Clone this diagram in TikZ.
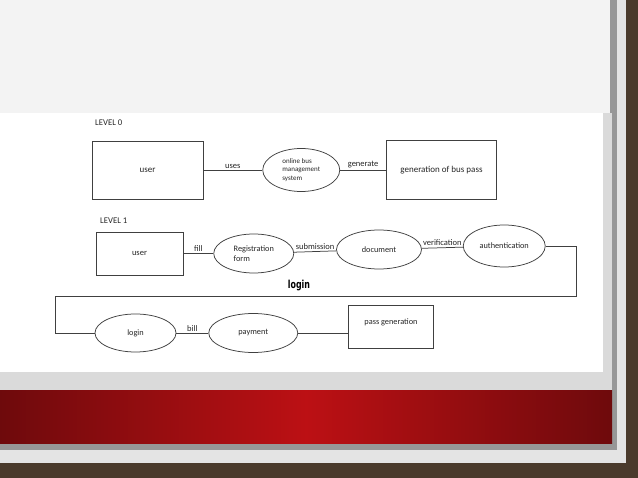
\documentclass[tikz,border=0pt]{standalone}
\usepackage{graphicx}
\usepackage{fontspec}
\setmainfont{Carlito}
\newfontfamily\condfont{DejaVu Sans Condensed}
\usetikzlibrary{positioning,shapes.geometric}
\definecolor{brick}{HTML}{4A3A2C}
\definecolor{slideedge}{HTML}{E4E4E4}
\definecolor{slideshade}{HTML}{979797}
\definecolor{slidetop}{HTML}{F3F3F3}
\definecolor{slidegray}{HTML}{DADADA}
\definecolor{reddark}{HTML}{6E0A0C}
\definecolor{redmid}{HTML}{BC1014}
\definecolor{linegray}{HTML}{404040}
\definecolor{textgray}{HTML}{262626}
\tikzset{%
  % shapes
  entity/.style={draw=linegray, line width=0.75pt, rectangle, inner sep=2pt,
    text=textgray, font=\fontsize{9}{11}\selectfont},
  process/.style={draw=linegray, line width=0.75pt, ellipse, inner sep=1pt,
    text=textgray, font=\fontsize{8.3}{10}\selectfont},
  % edges
  flow/.style={draw=linegray, line width=0.75pt},
  lbl/.style={above, inner sep=1.5pt, text=textgray, font=\fontsize{8.5}{10}\selectfont},
  level/.style={anchor=west, inner sep=0pt, text=textgray, font=\fontsize{8.7}{10}\selectfont},
}

\begin{document}
\begin{tikzpicture}[x=1pt, y=-1pt, node distance=40pt]
  % slide and backdrop
  \fill[brick] (0,0) rectangle (638,478);
  \fill[slideedge] (0,0) rectangle (626,463);
  \fill[slideshade] (0,0) rectangle (617,450);
  \fill[slidetop] (0,0) rectangle (610,444);
  \fill[slidegray] (0,113) rectangle (612,391);
  \fill[white] (0,113) rectangle (603,372);
  \shade[left color=reddark, right color=reddark, middle color=redmid] (0,391) rectangle (612,444);

  % level 0
  \node[level] (lvl0) at (95,123) {LEVEL 0};
  \node[entity, minimum width=111pt, minimum height=58pt] (user0) at (147.5,170) {user};
  \node[process, minimum width=77pt, minimum height=43pt, right=59pt of user0,
    align=left, font=\fontsize{7}{8.5}\selectfont] (obms) {online bus\\management\\system};
  \node[entity, minimum width=110pt, minimum height=59pt, right=46pt of obms] (pass0) {generation of bus pass};

  \draw[flow] (user0) -- node[lbl] {uses} (obms);
  \draw[flow] (obms) -- node[lbl] {generate} (pass0);

  % level 1
  \node[level] (lvl1) at (100,221) {LEVEL 1};
  \node[entity, minimum width=87pt, minimum height=43pt, font=\fontsize{8.5}{10}\selectfont] (user1) at (139.5,253.5) {user};
  \node[process, minimum width=80pt, minimum height=39pt, right=30pt of user1, align=left] (reg) {Registration\\form};
  \node[process, minimum width=85pt, minimum height=39pt, right=42pt of reg, yshift=4pt] (doc) {document};
  \node[process, minimum width=82pt, minimum height=42pt, right=41pt of doc, yshift=3.5pt] (auth) {authentication};

  \node[process, minimum width=81pt, minimum height=38pt] (login) at (135.5,333) {login};
  \node[process, minimum width=89pt, minimum height=39pt, right=32pt of login] (pay) {payment};
  \node[entity, minimum width=85pt, minimum height=43pt, right=50pt of pay, yshift=6pt,
    align=center, font=\fontsize{8.3}{10}\selectfont] (passgen) {pass generation\\[1pt]~};

  \node[text=black, font=\condfont\bfseries\fontsize{11}{12}\selectfont, inner sep=0pt] (loginlbl) at (299,286) {\scalebox{0.8}[1]{login}};

  \draw[flow] (user1) -- node[lbl] {fill} (reg);
  \draw[flow] (reg) -- node[lbl] {submission} (doc);
  \draw[flow] (doc) -- node[lbl] {verification} (auth);
  \coordinate (loopR) at (576,296);
  \coordinate (loopL) at (55,296);
  \draw[flow] (auth.east) -| (loopR) -- (loopL) |- (login.west);
  \draw[flow] (login) -- node[lbl] {bill} (pay);
  \draw[flow] (pay.east) -- (pay.east -| passgen.west);
\end{tikzpicture}
\end{document}
